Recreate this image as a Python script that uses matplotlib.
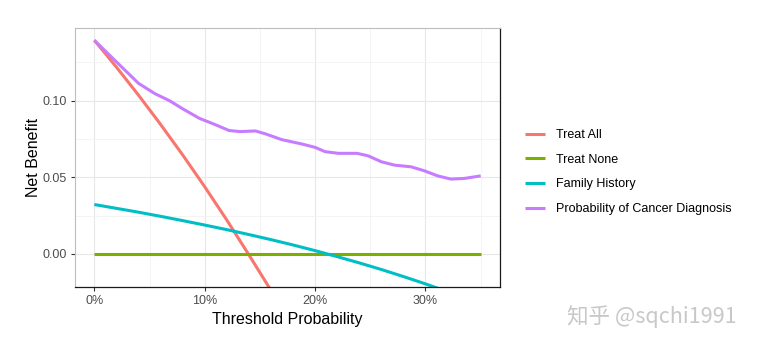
import matplotlib
matplotlib.use("Agg")
import matplotlib.pyplot as plt
from matplotlib.ticker import FuncFormatter

# threshold probabilities and net benefit values
thr = [0.0, 0.02, 0.04, 0.06, 0.08, 0.10, 0.12, 0.14, 0.16, 0.18, 0.20,
       0.22, 0.24, 0.26, 0.28, 0.30, 0.32, 0.34, 0.35]
treat_all = [0.1394, 0.1219, 0.1036, 0.0845, 0.0646, 0.0438, 0.0221, -0.0006,
             -0.0238, -0.0488, -0.0753, -0.1031, -0.1325, -0.1635, -0.1964,
             -0.2313, -0.2684, -0.3078, -0.3285]
treat_none = [0.0] * len(thr)
family_history = [0.0322, 0.0297, 0.0272, 0.0245, 0.0217, 0.0188, 0.0158,
                  0.0126, 0.0093, 0.0058, 0.0021, -0.0018, -0.0059, -0.0102,
                  -0.0148, -0.0196, -0.0247, -0.0301, -0.0329]

prob_thr = [0.0, 0.02, 0.04, 0.055, 0.068, 0.08, 0.095, 0.11, 0.122, 0.132,
            0.146, 0.155, 0.17, 0.188, 0.20, 0.209, 0.221, 0.238, 0.248,
            0.26, 0.272, 0.287, 0.299, 0.311, 0.323, 0.335, 0.35]
prob_nb = [0.1394, 0.1253, 0.1113, 0.1045, 0.1000, 0.0947, 0.0885, 0.0842,
           0.0805, 0.0798, 0.0802, 0.0783, 0.0745, 0.0717, 0.0695, 0.0667,
           0.0656, 0.0656, 0.0640, 0.0601, 0.0579, 0.0568, 0.0542, 0.0509,
           0.0488, 0.0492, 0.0509]

labels = ["Treat All", "Treat None", "Family History",
          "Probability of Cancer Diagnosis"]
colors = ["#F8766D", "#7CAE00", "#00BFC4", "#C77CFF"]

plt.rcParams["font.family"] = ["Liberation Sans", "DejaVu Sans"]

fig = plt.figure(figsize=(7.59, 3.5), dpi=100)
ax = fig.add_axes([75 / 759, 1 - 286.5 / 350, 425 / 759, 258.2 / 350])

series = [(thr, treat_all), (thr, treat_none), (thr, family_history),
          (prob_thr, prob_nb)]
for (xs, ys), lab, col in zip(series, labels, colors):
    ax.plot(xs, ys, color=col, lw=2.2, label=lab, solid_capstyle="butt")

ax.set_xticks([0, 0.1, 0.2, 0.3])
ax.set_xticks([0.05, 0.15, 0.25, 0.35], minor=True)
ax.set_yticks([0, 0.05, 0.10])
ax.set_yticks([0.025, 0.075, 0.125], minor=True)
# limits after the ticks so set_ticks does not widen them
ax.set_xlim(-0.0175, 0.3675)
ax.set_ylim(-0.0213, 0.1472)
ax.xaxis.set_major_formatter(FuncFormatter(lambda v, p: f"{v * 100:.0f}%"))
ax.yaxis.set_major_formatter(FuncFormatter(lambda v, p: f"{v:.2f}"))

ax.grid(which="major", color="#E8E8E8", lw=0.8)
ax.grid(which="minor", color="#F3F3F3", lw=0.6)
ax.set_axisbelow(True)
ax.tick_params(which="major", length=3, width=0.8, color="#333333",
               labelsize=9, labelcolor="#4D4D4D", pad=3)
ax.tick_params(which="minor", length=0)

for side in ["left", "top"]:
    ax.spines[side].set_color("#BDBDBD")
    ax.spines[side].set_linewidth(0.8)
for side in ["bottom", "right"]:
    ax.spines[side].set_color("#1A1A1A")
    ax.spines[side].set_linewidth(0.9)

ax.set_xlabel("Threshold Probability", fontsize=11.5, labelpad=4)
ax.set_ylabel("Net Benefit", fontsize=11.5, labelpad=1)

fig.legend(*ax.get_legend_handles_labels(), loc="center left",
           bbox_to_anchor=(514 / 759, 1 - 172 / 350), frameon=False,
           fontsize=9, handlelength=1.6, handletextpad=0.85, labelspacing=1.02)

fig.text(652 / 759, 1 - 317 / 350, "知乎 @sqchi1991", ha="center", va="center",
         fontsize=15.5, color="#C8C8C8",
         family=["Noto Sans CJK SC", "DejaVu Sans"])

fig.savefig("out.png", dpi=100)
